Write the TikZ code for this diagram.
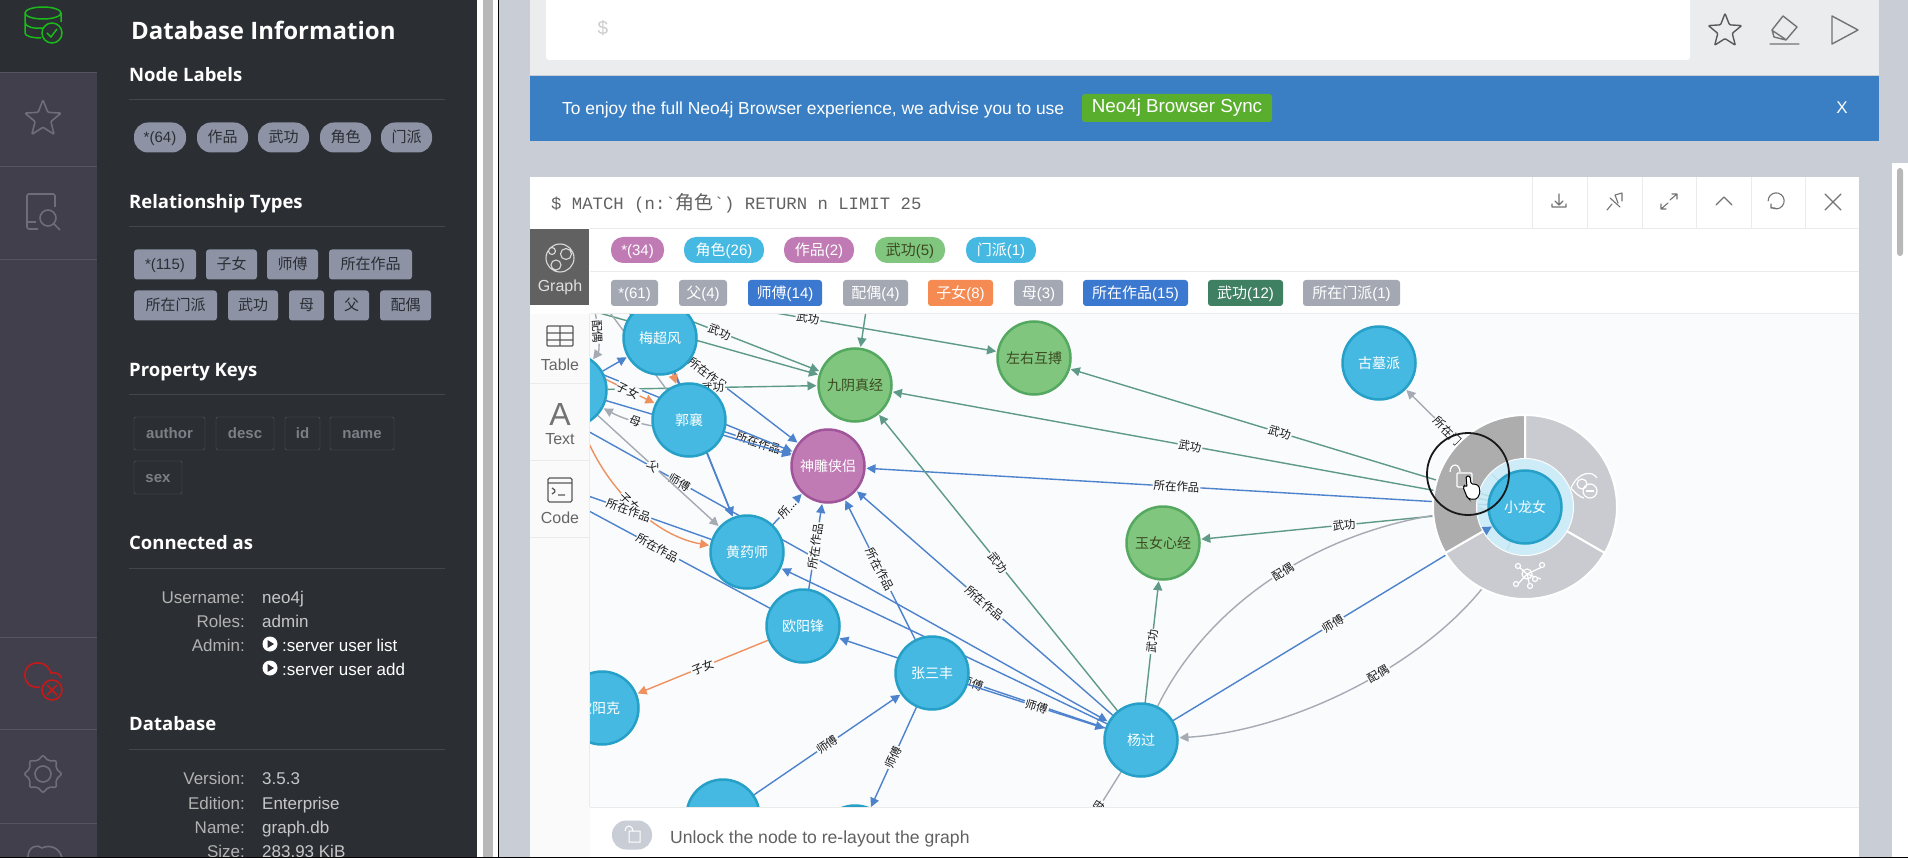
\documentclass[tikz,border=0pt]{standalone}
\usepackage{fontspec}
\setmainfont{Liberation Sans}
\setmonofont{Liberation Mono}
\newfontfamily\opensans{Open Sans}
\newfontfamily\cjk{Noto Sans CJK SC}
\usetikzlibrary{shapes.geometric,arrows.meta}

\definecolor{sidedark}{HTML}{2B2E33}
\definecolor{sidemid}{HTML}{403F4B}
\definecolor{sideline}{HTML}{55555F}
\definecolor{iconmute}{HTML}{6E6D78}
\definecolor{pagebg}{HTML}{C9CED6}
\definecolor{canvasbg}{HTML}{F9FBFD}
\definecolor{pillgrey}{HTML}{8D92A5}
\definecolor{tagkey}{HTML}{7C7F85}
\definecolor{tagline}{HTML}{5A5C62}
\definecolor{bannerblue}{HTML}{3A7FC4}
\definecolor{syncgreen}{HTML}{5AAE2E}
\definecolor{charblue}{HTML}{45B9E1}
\definecolor{charline}{HTML}{27A0C8}
\definecolor{workpurple}{HTML}{C07BB4}
\definecolor{workline}{HTML}{A0559A}
\definecolor{kungreen}{HTML}{80C67F}
\definecolor{kunline}{HTML}{55A860}
\definecolor{kuntext}{HTML}{3B4A20}
\definecolor{edgegreen}{HTML}{5E9A85}
\definecolor{edgeblue}{HTML}{4D82CC}
\definecolor{edgegrey}{HTML}{A5AAB3}
\definecolor{edgeorange}{HTML}{EE915F}
\definecolor{relgrey}{HTML}{A3A8B3}
\definecolor{relblue}{HTML}{3B78D0}
\definecolor{relorange}{HTML}{F58B52}
\definecolor{relgreen}{HTML}{3F8063}
\definecolor{slicelight}{HTML}{C9CBD0}
\definecolor{slicedark}{HTML}{ADADAD}

\pgfdeclarelayer{canvas}
\pgfdeclarelayer{edges}
\pgfdeclarelayer{menu}
\pgfdeclarelayer{chrome}
\pgfsetlayers{canvas,edges,menu,main,chrome}

\tikzset{
  sidehead/.style={anchor=mid west, inner sep=0pt, yshift=-5pt, text=white, font=\opensans\bfseries\fontsize{18.5}{22}\selectfont},
  sidekey/.style={anchor=mid east, inner sep=0pt, yshift=-5pt, text=black!30, font=\fontsize{17}{20}\selectfont},
  sideval/.style={anchor=mid west, inner sep=0pt, yshift=-5pt, text=black!22, font=\fontsize{17}{20}\selectfont},
  nodepill/.style={fill=pillgrey, rounded corners=14pt, minimum height=30pt, inner sep=0pt, text height=10.8pt, text depth=0pt, text=sidedark, font=\fontsize{15}{18}\selectfont},
  relpill/.style={fill=pillgrey, rounded corners=3pt, minimum height=30pt, inner sep=0pt, text height=10.8pt, text depth=0pt, text=sidedark, font=\fontsize{15}{18}\selectfont},
  keypill/.style={draw=tagline, rounded corners=2pt, minimum height=33pt, inner sep=0pt, text height=10.8pt, text depth=0pt, text=tagkey, font=\bfseries\fontsize{15}{18}\selectfont},
  labpill/.style={rounded corners=12pt, minimum height=26pt, inner sep=0pt, text height=10.8pt, text depth=0pt, text=white, font=\fontsize{15}{18}\selectfont},
  typepill/.style={rounded corners=3pt, minimum height=26pt, inner sep=0pt, text height=10.8pt, text depth=0pt, text=white, font=\fontsize{15}{18}\selectfont},
  tabname/.style={inner sep=0pt, text=black!60, font=\fontsize{16}{18}\selectfont},
  gnode/.style={circle, line width=2.5pt, minimum size=73pt, inner sep=0pt, outer sep=1pt, font=\cjk\fontsize{14}{16}\selectfont},
  charnode/.style={gnode, fill=charblue, draw=charline, text=white},
  worknode/.style={gnode, fill=workpurple, draw=workline, text=white},
  kunnode/.style={gnode, fill=kungreen, draw=kunline, text=kuntext},
  edge/.style={line width=1.4pt, shorten >=1pt},
  wugong/.style={edge, draw=edgegreen, -{Triangle[length=9pt,width=9pt,fill=edgegreen]}},
  bluerel/.style={edge, draw=edgeblue, -{Triangle[length=9pt,width=9pt,fill=edgeblue]}},
  greyrel/.style={edge, draw=edgegrey, -{Triangle[length=9pt,width=9pt,fill=edgegrey]}},
  zinv/.style={edge, draw=edgeorange, -{Triangle[length=9pt,width=9pt,fill=edgeorange]}},
  elabel/.style={sloped, fill=canvasbg, inner sep=1pt, text=black!90, font=\cjk\fontsize{11.5}{12}\selectfont},
  sideicon/.style={draw=iconmute, line width=1.6pt, line join=round},
  headicon/.style={draw=black!55, line width=1.1pt, line cap=round, line join=round},
  menuicon/.style={draw=white, line width=1.2pt},
}

\begin{document}
\begin{tikzpicture}[x=1pt,y=-1pt]
\useasboundingbox (0,0) rectangle (1908,858);

% Page behind the graph
\begin{pgfonlayer}{canvas}
\fill[pagebg] (0,0) rectangle (1908,858);
\fill[canvasbg] (590,314) rectangle (1859,807);
\end{pgfonlayer}

% Graph nodes
\node[charnode] (lft) at (570,390) {};
\node[charnode] (mcf) at (660,338) {梅超风};
\node[charnode] (gx) at (689,420) {郭襄};
\node[kunnode] (jyzj) at (855,385) {九阴真经};
\node[worknode] (sdxl) at (828,466) {神雕侠侣};
\node[charnode] (hys) at (747,552) {黄药师};
\node[charnode] (oyf) at (803,626) {欧阳锋};
\node[charnode] (zsf) at (932,673) {张三丰};
\node[charnode] (oyk) at (602,708) {\hspace*{-6pt}欧阳克};
\node[charnode] (botA) at (723,816) {};
\node[charnode] (botB) at (855,842) {};
\node[kunnode] (zyhb) at (1034,358) {左右互搏};
\node[kunnode] (ynxj) at (1163,543) {玉女心经};
\node[charnode] (gmp) at (1379,363) {古墓派};
\node[charnode] (yg) at (1141,740) {杨过};
\node[charnode] (xln) at (1525,507) {小龙女};

% Ends that lie outside the view
\coordinate (offA) at (251,243);
\coordinate (offB) at (509,468);
\coordinate (offG) at (562,358);
\coordinate (offH) at (586,280);
\coordinate (offJ) at (875,250);
\coordinate (offK) at (525,292);
\coordinate (offL) at (650,310);
\coordinate (offM) at (1061,868);
\coordinate (xlnGap) at (1486,530);

% Connectors
\begin{pgfonlayer}{edges}
\draw[wugong] (xln) -- node[elabel] {武功} (zyhb);
\draw[wugong] (xln) -- node[elabel] {武功} (jyzj);
\draw[bluerel] (xln) -- node[elabel] {所在作品} (sdxl);
\draw[wugong] (xln) -- node[elabel] {武功} (ynxj);
\draw[greyrel] (xln) -- node[elabel] {所在门派} (gmp);
\draw[edgeblue, line width=1.4pt] (yg) -- node[elabel] {师傅} (xln);
\draw[greyrel] (xln) .. controls (1470,640) and (1310,730) .. node[elabel] {配偶} (yg);
\draw[greyrel] (yg) .. controls (1210,600) and (1330,520) .. node[elabel] {配偶} (xln);
\draw[wugong] (yg) -- node[elabel] {武功} (ynxj);
\draw[wugong] (yg) -- node[elabel] {武功} (jyzj);
\draw[bluerel] (yg) -- node[elabel] {所在作品} (sdxl);
\draw[bluerel] (yg) -- (hys);
\draw[bluerel] (yg) -- node[elabel] {师傅} (oyf);
\draw[bluerel] (zsf) -- node[elabel] {师傅} (yg);
\draw[bluerel] (offA) -- node[elabel] {师傅} (yg);
\draw[greyrel] (yg) -- node[elabel, pos=.36] {母} (offM);
\draw[bluerel] (zsf) -- node[elabel] {所在作品} (sdxl);
\draw[bluerel] (oyf) -- node[elabel] {所在作品} (sdxl);
\draw[bluerel] (hys) -- node[elabel] {所...} (sdxl);
\draw[bluerel] (gx) -- node[elabel] {所在作品} (sdxl);
\draw[bluerel] (lft) -- (sdxl);
\draw[bluerel] (offG) -- (sdxl);
\draw[bluerel] (offH) -- node[elabel, pos=.575] {所在作品} (sdxl);
\draw[wugong] (offH) -- node[elabel, pos=.57] {武功} (jyzj);
\draw[wugong] (offH) -- node[elabel, pos=.54] {武功} (zyhb);
\draw[wugong] (offK) -- (jyzj);
\draw[wugong] (offJ) -- (jyzj);
\draw[wugong] (lft) -- node[elabel] {武功} (jyzj);
\draw[greyrel] (lft) -- node[elabel, pos=.46] {父} (hys);
\draw[zinv] (lft) .. controls (600,480) and (650,535) .. node[elabel] {子女} (hys);
\draw[bluerel] (hys) -- node[elabel, pos=.41] {所在作品} (offB);
\draw[bluerel] (oyf) -- node[elabel, pos=.43] {所在作品} (offB);
\draw[bluerel] (mcf) -- (hys);
\draw[bluerel] (offL) -- (hys);
\draw[bluerel] (lft) -- (mcf);
\draw[zinv] (offG) -- node[elabel, pos=.71] {子女} (gx);
\draw[zinv] (mcf) -- (gx);
\draw[greyrel] (gx) .. controls (650,426) and (625,420) .. node[elabel] {母} (lft);
\draw[greyrel] (gx) -- (offH);
\draw[greyrel] (offH) .. controls (600,320) and (600,350) .. node[elabel] {配偶} (lft);
\draw[bluerel] (botA) -- node[elabel] {师傅} (zsf);
\draw[bluerel] (zsf) -- node[elabel] {师傅} (botB);
\draw[zinv] (oyf) -- node[elabel] {子女} (oyk);
\end{pgfonlayer}

% Ring menu round the selected node
\begin{pgfonlayer}{menu}
\begin{scope}[shift={(1525,507)}]
\filldraw[draw=white, line width=2pt, fill=slicelight] (-90:92) arc[start angle=-90, end angle=30, radius=92] -- (30:48) arc[start angle=30, end angle=-90, radius=48] -- cycle;
\filldraw[draw=white, line width=2pt, fill=slicelight] (30:92) arc[start angle=30, end angle=150, radius=92] -- (150:48) arc[start angle=150, end angle=30, radius=48] -- cycle;
\filldraw[draw=white, line width=2pt, fill=slicedark] (150:92) arc[start angle=150, end angle=270, radius=92] -- (270:48) arc[start angle=270, end angle=150, radius=48] -- cycle;
\fill[fill=charblue!30, fill opacity=.85] (0,0) circle (48);
\end{scope}
\draw[bluerel] (xlnGap) -- (xln);
% eye with minus
\draw[menuicon] (1571,488) .. controls (1578,472) and (1592,470) .. (1597,478);
\draw[menuicon] (1571,488) .. controls (1576,494) and (1580,497) .. (1584,498);
\draw[menuicon] (1582,484) circle (5);
\draw[menuicon] (1590,491) circle (7);
\draw[menuicon] (1586,491) -- (1594,491);
% small graph
\draw[menuicon] (1527,574) circle (5);
\draw[menuicon] (1527,574) -- (1542,567) (1527,574) -- (1518,566) (1527,574) -- (1518,584) (1527,574) -- (1530,587) (1527,574) -- (1541,579);
\filldraw[menuicon, fill=slicelight] (1542,565) circle (2.5) (1518,566) circle (2.5) (1516,584) circle (2.5) (1530,586) circle (2.5) (1535,579) circle (2.5);
\end{pgfonlayer}

\begin{pgfonlayer}{chrome}
% Cursor over the lock
\draw[menuicon] (1450,472) arc[start angle=180, end angle=360, x radius=5, y radius=7];
\draw[menuicon, rounded corners=1pt] (1457,473) rectangle (1472,487);
\draw[black!90, line width=1.8pt] (1468,474) circle (41);
\filldraw[fill=white, draw=black, line width=1pt, rounded corners=1.5pt] (1467,497) -- (1463,487) -- (1465,485) -- (1467,487) -- (1466,476) -- (1470,476) -- (1471,484) -- (1475,484) -- (1479,486) -- (1480,493) -- (1477,499) -- (1469,499) -- cycle;

% Strip and left column of the result frame
\fill[pagebg] (499,0) rectangle (530,858);
\fill[pagebg] (530,0) rectangle (1908,177);
\fill[black!2] (530,229) rectangle (590,858);
\draw[black!8] (530,383) -- (590,383) (530,460) -- (590,460) (530,537) -- (590,537) (589.5,305) -- (589.5,807);

% Editor and banner
\fill[black!3!pagebg!35!white] (530,0) rectangle (1879,75);
\fill[white, rounded corners=3pt] (546,-5) rectangle (1690,60);
\node[inner sep=0pt, text=black!20, font=\fontsize{19}{22}\selectfont] (editprompt) at (603,28) {\$};
\node[star, star points=5, star point ratio=2.3, draw=black!65, line width=1.4pt, inner sep=0pt, minimum size=35pt, rounded corners=1pt] (starbig) at (1725,31) {};
\draw[headicon, line width=1.4pt] (1783,16) -- (1797,27) -- (1786,40) -- (1774,37) -- (1772,30) -- cycle (1773,31) -- (1785,39) (1770,44) -- (1799,44);
\draw[headicon, line width=1.4pt] (1832,16) -- (1858,30) -- (1832,44) -- cycle;
\fill[bannerblue] (530,76) rectangle (1879,141);
\node[anchor=mid west, inner sep=0pt, yshift=-3.5pt, text=white, font=\fontsize{17.4}{20}\selectfont] (bannertext) at (562,108) {To enjoy the full Neo4j Browser experience, we advise you to use};
\node[fill=syncgreen, rounded corners=3pt, minimum width=190pt, minimum height=28pt, inner sep=0pt, text=white, font=\fontsize{18.8}{20}\selectfont] (syncbtn) at (1177,108) {Neo4j Browser Sync};
\node[inner sep=0pt, text=white, font=\fontsize{17}{18}\selectfont] (bannerx) at (1842,108) {X};

% Frame header
\fill[white] (530,177) rectangle (1859,314);
\fill[black!62] (530,229) rectangle (589,305);
\draw[black!8] (590,228.5) -- (1859,228.5) (590,271) -- (1859,271) (590,313.5) -- (1859,313.5);
\draw[black!8] (1532,177) -- (1532,228) (1587,177) -- (1587,228) (1642,177) -- (1642,228) (1696,177) -- (1696,228) (1751,177) -- (1751,228) (1805,177) -- (1805,228);
\node[anchor=mid west, inner sep=0pt, yshift=-2.5pt, text=black!62, font=\ttfamily\fontsize{17.3}{20}\selectfont] (query) at (551,204) {\$ MATCH (n:`{\cjk\fontsize{19}{20}\selectfont 角色}`) RETURN n LIMIT 25};
\draw[headicon] (1559,194) -- (1559,205) (1555,201) -- (1559,205) -- (1563,201) (1552,204) -- (1552,207) -- (1566,207) -- (1566,204);
\draw[headicon] (1607,210) -- (1612,204) (1610,198) -- (1620,207) (1615,195) -- (1622,193) -- (1622,201) (1615,195) -- (1618,203);
\draw[headicon] (1661,209) -- (1668,203) (1670,200) -- (1677,194) (1661,204) -- (1661,209) -- (1666,209) (1672,194) -- (1677,194) -- (1677,199);
\draw[headicon] (1716,205) -- (1724,197) -- (1732,205);
\draw[headicon] (1771,207) arc[start angle=130, end angle=-180, radius=8] (1771,204) -- (1771,208) -- (1775,208);
\draw[headicon, line width=1.3pt] (1825,194) -- (1841,210) (1841,194) -- (1825,210);

% Graph tabs
\draw[white!85!black, line width=1.1pt] (560,258) circle (14) (566,254) circle (5.5) (556,265) circle (5) (552,251) circle (3.5);
\node[tabname, text=black!12] (tabgraph) at (560,287) {Graph};
\draw[black!65, line width=1.4pt, rounded corners=1pt] (547,326) rectangle (573,346) (547,333) -- (573,333) (547,340) -- (573,340) (560,326) -- (560,346);
\node[tabname] (tabtable) at (560,365) {Table};
\node[inner sep=0pt, text=black!55, font=\fontsize{32}{36}\selectfont] (tabglyph) at (560,414) {A};
\node[tabname] (tabtext) at (560,439) {Text};
\draw[black!65, line width=1.3pt, rounded corners=1.5pt] (548,478) rectangle (572,502) (548,483) -- (572,483) (552,488) -- (556,491) -- (552,494) (558,495) -- (565,495);
\node[tabname] (tabcode) at (560,518) {Code};

% Label and type rows
\node[labpill, fill=workpurple, minimum width=53pt] (lab1) at (637.5,250) {*(34)};
\node[labpill, fill=charblue, minimum width=80pt] (lab2) at (724,250) {{\cjk 角色}(26)};
\node[labpill, fill=workpurple, minimum width=70pt] (lab3) at (819,250) {{\cjk 作品}(2)};
\node[labpill, fill=kungreen, text=kuntext, minimum width=70pt] (lab4) at (910,250) {{\cjk 武功}(5)};
\node[labpill, fill=charblue, minimum width=70pt] (lab5) at (1001,250) {{\cjk 门派}(1)};
\node[typepill, fill=relgrey, minimum width=47pt] (rel1) at (634.5,293) {*(61)};
\node[typepill, fill=relgrey, minimum width=48pt] (rel2) at (703,293) {{\cjk 父}(4)};
\node[typepill, fill=relblue, minimum width=74pt] (rel3) at (785,293) {{\cjk 师傅}(14)};
\node[typepill, fill=relgrey, minimum width=65pt] (rel4) at (875.5,293) {{\cjk 配偶}(4)};
\node[typepill, fill=relorange, minimum width=65pt] (rel5) at (960.5,293) {{\cjk 子女}(8)};
\node[typepill, fill=relgrey, minimum width=49pt] (rel6) at (1038.5,293) {{\cjk 母}(3)};
\node[typepill, fill=relblue, minimum width=105pt] (rel7) at (1135.5,293) {{\cjk 所在作品}(15)};
\node[typepill, fill=relgreen, minimum width=75pt] (rel8) at (1245.5,293) {{\cjk 武功}(12)};
\node[typepill, fill=relgrey, minimum width=97pt] (rel9) at (1351.5,293) {{\cjk 所在门派}(1)};

% Footer of the frame
\fill[white] (590,807) rectangle (1859,858);
\fill[black!2] (530,807) rectangle (590,858);
\draw[black!8] (590,807.5) -- (1859,807.5);
\node[fill=pagebg, rounded corners=14pt, minimum width=40pt, minimum height=29pt, inner sep=0pt] (lockpill) at (632,835) {};
\draw[white, line width=1pt] (625,831) arc[start angle=180, end angle=360, x radius=4, y radius=5] (629,831) rectangle (640,842);
\node[anchor=mid west, inner sep=0pt, yshift=-5pt, text=black!62, font=\fontsize{17.6}{20}\selectfont] (footertext) at (670,836) {Unlock the node to re-layout the graph};

% Page scrollbar
\fill[white] (1892,163) rectangle (1908,858);
\fill[black!28, rounded corners=3pt] (1897,168) rectangle (1903,256);

% Icon bar
\fill[sidemid] (0,0) rectangle (97,858);
\fill[sidedark] (0,0) rectangle (97,73);
\draw[sideline, line width=1pt] (0,73) -- (97,73) (0,167) -- (97,167) (0,260) -- (97,260) (0,637) -- (97,637) (0,729) -- (97,729) (0,823) -- (97,823);
\draw[green!70!black!90!white, line width=1.5pt] (43,13) ellipse [x radius=18, y radius=6] (25,13) -- (25,33) .. controls (25,36) and (32,38) .. (41,38) (25,23) .. controls (26,27) and (34,29) .. (43,28) (61,13) -- (61,22);
\draw[green!70!black!90!white, line width=1.5pt] (52,33) circle (10) (47,33) -- (51,37) -- (57,29);
\node[star, star points=5, star point ratio=2.3, sideicon, inner sep=0pt, minimum size=38pt, rounded corners=1pt] (sidestar) at (43,119) {};
\draw[sideicon, rounded corners=2pt] (38,229) -- (27,229) -- (27,194) -- (55,194) -- (55,207) (27,222) -- (36,222);
\draw[sideicon] (48,218) circle (8) (54,224) -- (60,230);
\draw[red!75!black!90!white, line width=1.6pt] (40,687) .. controls (20,690) and (20,662) .. (38,663) .. controls (46,663) and (49,668) .. (51,673) .. controls (56,672) and (60,674) .. (61,678);
\draw[red!75!black!90!white, line width=1.6pt] (52,690) circle (10) (47,685) -- (57,695) (57,685) -- (47,695);
\node[star, star points=8, star point ratio=1.35, sideicon, inner sep=0pt, minimum size=38pt, rounded corners=2pt] (sidegear) at (43,774) {};
\draw[sideicon] (43,774) circle (8);
\draw[sideicon] (28,857) .. controls (28,846) and (38,844) .. (42,848) .. controls (50,844) and (60,848) .. (62,858);

% Database panel
\fill[sidedark] (97,0) rectangle (477,858);
\fill[white] (477,0) rectangle (499,858);
\fill[black!28] (483,0) rectangle (493,858);
\fill[black] (497.5,0) rectangle (499,858);
\node[sidehead, yshift=-1pt, font=\opensans\bfseries\fontsize{24}{26}\selectfont] (dbinfo) at (131,31) {Database Information};
\node[sidehead] (headlabels) at (129,74) {Node Labels};
\draw[sideline!60!sidedark] (129,99.5) -- (445,99.5) (129,226.5) -- (445,226.5) (129,394.5) -- (445,394.5) (129,568.5) -- (445,568.5) (129,749.5) -- (445,749.5);
\node[nodepill, minimum width=52pt] (np1) at (160,137.5) {*(64)};
\node[nodepill, minimum width=51pt] (np2) at (222.5,137.5) {\cjk 作品};
\node[nodepill, minimum width=51pt] (np3) at (283.5,137.5) {\cjk 武功};
\node[nodepill, minimum width=51pt] (np4) at (345.5,137.5) {\cjk 角色};
\node[nodepill, minimum width=51pt] (np5) at (406.5,137.5) {\cjk 门派};
\node[sidehead] (headtypes) at (129,201) {Relationship Types};
\node[relpill, minimum width=62pt] (rp1) at (165,264.5) {*(115)};
\node[relpill, minimum width=51pt] (rp2) at (231.5,264.5) {\cjk 子女};
\node[relpill, minimum width=51pt] (rp3) at (292.5,264.5) {\cjk 师傅};
\node[relpill, minimum width=83pt] (rp4) at (370.5,264.5) {\cjk 所在作品};
\node[relpill, minimum width=83pt] (rp5) at (175.5,305.5) {\cjk 所在门派};
\node[relpill, minimum width=50pt] (rp6) at (253,305.5) {\cjk 武功};
\node[relpill, minimum width=35pt] (rp7) at (306.5,305.5) {\cjk 母};
\node[relpill, minimum width=35pt] (rp8) at (351.5,305.5) {\cjk 父};
\node[relpill, minimum width=51pt] (rp9) at (405.5,305.5) {\cjk 配偶};
\node[sidehead] (headkeys) at (129,369) {Property Keys};
\node[keypill, minimum width=71pt] (kp1) at (169.5,433.5) {author};
\node[keypill, minimum width=58pt] (kp2) at (245,433.5) {desc};
\node[keypill, minimum width=35pt] (kp3) at (302.5,433.5) {id};
\node[keypill, minimum width=64pt] (kp4) at (362,433.5) {name};
\node[keypill, minimum width=48pt] (kp5) at (158,477.5) {sex};
\node[sidehead] (headconn) at (129,542) {Connected as};
\node[sidekey] (kuser) at (245,596) {Username:};
\node[sideval] (vuser) at (262,596) {neo4j};
\node[sidekey] (kroles) at (245,620) {Roles:};
\node[sideval] (vroles) at (262,620) {admin};
\node[sidekey] (kadmin) at (245,644) {Admin:};
\fill[white] (270,644) circle (7.5) (270,668) circle (7.5);
\fill[sidedark] (267.5,640) -- (274,644) -- (267.5,648) -- cycle (267.5,664) -- (274,668) -- (267.5,672) -- cycle;
\node[sideval, text=white] (vlist) at (282,644) {:server user list};
\node[sideval, text=white] (vadd) at (282,668) {:server user add};
\node[sidehead] (headdb) at (129,723) {Database};
\node[sidekey] (kver) at (245,777) {Version:};
\node[sideval] (vver) at (262,777) {3.5.3};
\node[sidekey] (kedit) at (245,802) {Edition:};
\node[sideval] (vedit) at (262,802) {Enterprise};
\node[sidekey] (kname) at (245,826) {Name:};
\node[sideval] (vname) at (262,826) {graph.db};
\node[sidekey] (ksize) at (245,850) {Size:};
\node[sideval] (vsize) at (262,850) {283.93 KiB};
\fill[black] (0,856.5) rectangle (1908,858);
\end{pgfonlayer}
\end{tikzpicture}
\end{document}
